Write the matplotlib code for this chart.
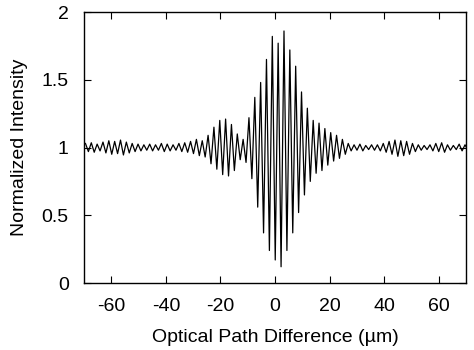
import matplotlib
matplotlib.use("Agg")
import matplotlib.pyplot as plt
import numpy as np

plt.rcParams["font.family"] = ["Liberation Sans", "DejaVu Sans"]
plt.rcParams["axes.unicode_minus"] = False

# fringe grid (um)
first_peak = -69.46
fringe_period = 2.14

# intensity at each fringe maximum, left to right
peak_values = [
    1.03, 1.035, 1.025, 1.04, 1.05, 1.045, 1.055, 1.04, 1.03, 1.025,
    1.02, 1.025, 1.02, 1.03, 1.025, 1.02, 1.03, 1.035, 1.045, 1.06,
    1.05, 1.09, 1.15, 1.20, 1.21, 1.17, 1.10, 1.06, 1.22, 1.37,
    1.48, 1.65, 1.82, 1.77, 1.86, 1.72, 1.60, 1.41, 1.29, 1.20,
    1.18, 1.14, 1.11, 1.09, 1.06, 1.03, 1.02, 1.025, 1.015, 1.02,
    1.02, 1.03, 1.045, 1.055, 1.05, 1.045, 1.03, 1.02, 1.015, 1.02,
    1.03, 1.035, 1.02, 1.015, 1.025, 1.02,
]

# intensity at the minimum following each maximum
trough_values = [
    0.97, 0.965, 0.975, 0.96, 0.95, 0.955, 0.945, 0.96, 0.97, 0.975,
    0.98, 0.975, 0.98, 0.97, 0.975, 0.98, 0.97, 0.965, 0.955, 0.94,
    0.93, 0.88, 0.84, 0.80, 0.79, 0.83, 0.91, 0.89, 0.77, 0.56,
    0.37, 0.24, 0.17, 0.12, 0.24, 0.37, 0.52, 0.65, 0.75, 0.81,
    0.83, 0.87, 0.90, 0.92, 0.95, 0.975, 0.98, 0.975, 0.985, 0.98,
    0.975, 0.965, 0.95, 0.935, 0.94, 0.95, 0.97, 0.98, 0.985, 0.975,
    0.97, 0.965, 0.98, 0.985, 0.975, 0.98,
]

n = len(peak_values)
peak_x = first_peak + fringe_period * np.arange(n)
trough_x = peak_x + fringe_period / 2

opd = np.empty(2 * n)
opd[0::2] = peak_x
opd[1::2] = trough_x
intensity = np.empty(2 * n)
intensity[0::2] = peak_values
intensity[1::2] = trough_values

fig = plt.figure(figsize=(4.74, 3.5), dpi=100)
ax = fig.add_axes([0.1772, 0.1914, 0.8059, 0.7743])

ax.plot(opd, intensity, color="black", linewidth=0.9)

ax.set_xlim(-70, 70)
ax.set_ylim(0, 2)
ax.set_xticks([-60, -40, -20, 0, 20, 40, 60])
ax.set_yticks([0, 0.5, 1, 1.5, 2])
ax.set_yticklabels(["0", "0.5", "1", "1.5", "2"])
ax.tick_params(direction="in", top=True, right=True, length=5,
               labelsize=14, width=0.8)
ax.tick_params(axis="x", pad=11)
ax.tick_params(axis="y", pad=11)
for s in ax.spines.values():
    s.set_linewidth(1.0)

ax.set_xlabel("Optical Path Difference (\u00b5m)", fontsize=14, labelpad=10)
ax.set_ylabel("Normalized Intensity", fontsize=14, labelpad=10)

fig.savefig("out.png", dpi=100)
